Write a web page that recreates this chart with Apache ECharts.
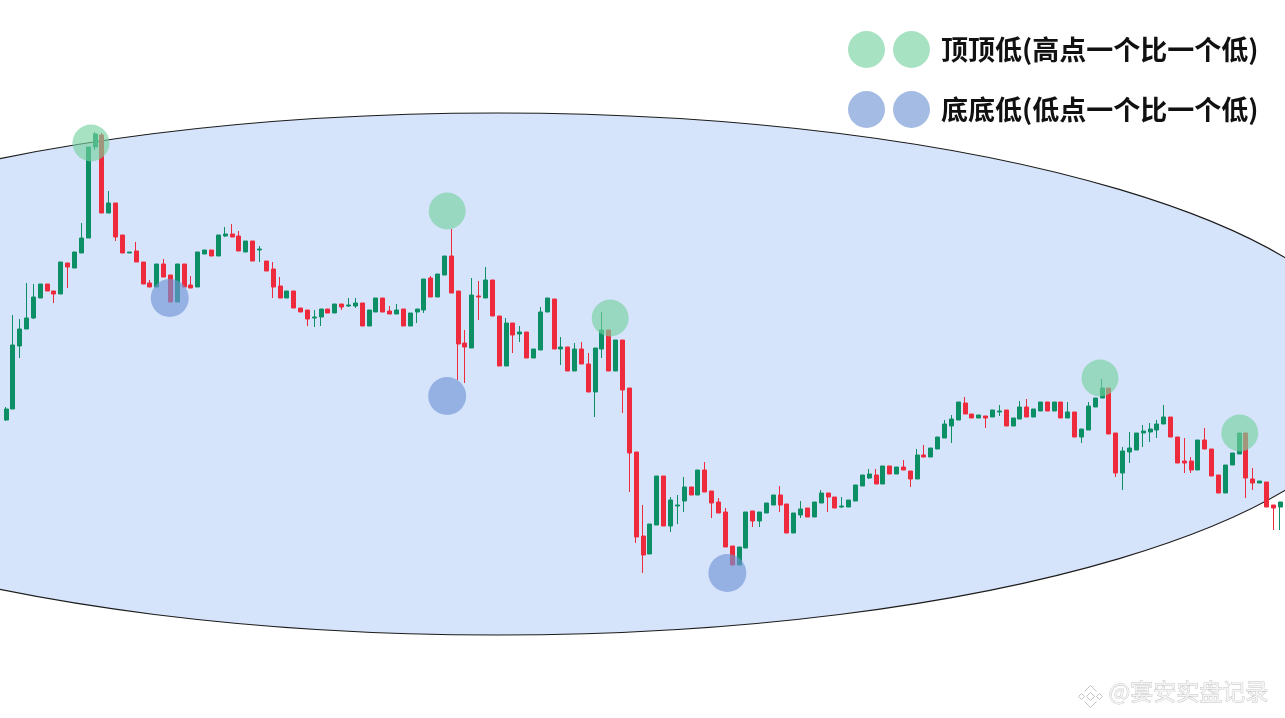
<!DOCTYPE html>
<html>
<head>
<meta charset="utf-8">
<script src="https://cdn.jsdelivr.net/npm/echarts@6/dist/echarts.min.js"></script>
<style>html,body{margin:0;padding:0;background:#fff;}#c{width:1285px;height:718px;}</style>
</head>
<body>
<div id="c"></div>
<script>
// candle values (price units)
const opens = [300,311,374,391,402,422,436,429,426,457,
452,467,482,573,585,507,517,485,467,469,
458,437,433,456,445,418,456,435,433,466,
470,464,484,486,484,468,479,470,459,451,
434,422,429,412,410,402,403,411,407,416,
414,414,417,394,408,422,409,406,411,394,
408,410,442,423,445,464,429,377,372,424,
422,440,404,354,397,386,388,362,370,408,
421,371,373,349,371,356,328,371,390,349,
380,332,268,184,166,195,244,194,214,219,
233,225,250,229,218,208,174,155,172,209,
199,207,215,225,216,187,205,212,203,217,
227,223,213,213,219,234,242,245,236,254,
246,253,249,241,265,263,271,282,294,300,
317,306,302,304,303,308,310,294,301,313,
303,309,318,309,318,302,308,283,290,313,
322,332,287,247,268,270,287,288,290,296,
303,283,259,259,250,280,271,245,227,255,
266,287,241,237,238,215,213];
const closes = [311,375,391,402,423,436,429,426,458,453,
468,482,573,586,507,517,483,467,468,458,
436,433,456,443,418,456,433,432,468,470,
464,485,486,483,469,479,459,471,449,433,
422,429,412,408,401,403,411,407,416,413,
415,417,394,410,422,408,406,410,394,407,
411,441,423,446,464,427,376,373,425,423,
440,404,354,397,385,388,362,371,408,422,
371,373,349,371,356,328,372,390,349,380,
330,267,183,165,196,244,194,220,215,233,
225,250,228,217,207,173,155,173,208,199,
208,217,225,215,187,207,211,203,218,227,
223,212,214,220,235,245,246,236,254,246,
253,250,241,265,263,272,283,296,301,318,
306,302,305,302,310,309,294,302,313,303,
311,318,309,318,302,308,283,291,314,322,
332,286,247,269,272,287,289,291,296,303,
283,257,257,250,280,271,244,227,255,267,
287,242,237,239,213,212,218];
const lows = [299,311,362,391,401,422,429,417,426,432,
452,467,482,570,507,507,479,467,467,458,
436,433,433,443,418,418,433,432,433,466,
464,464,483,483,469,468,459,458,449,422,
422,422,412,408,394,393,394,407,407,410,
413,412,394,394,408,408,406,406,394,394,
397,407,423,423,445,427,340,337,372,400,
422,404,354,354,367,378,362,362,370,408,
371,355,349,349,356,328,303,362,349,349,
307,228,177,147,166,195,194,188,196,208,
225,225,228,202,207,173,155,155,172,193,
193,207,215,208,187,187,202,203,203,217,
208,212,212,213,219,234,241,236,236,246,
246,250,233,241,263,263,271,282,277,300,
306,302,302,292,303,304,294,294,301,303,
303,309,309,309,302,302,283,277,290,313,
322,286,243,230,257,270,273,278,282,296,
283,257,247,247,250,271,244,227,227,255,
266,222,230,237,213,190,190];
const highs = [313,405,401,437,436,436,436,429,458,457,
468,497,573,588,587,529,517,485,468,478,
458,440,456,461,445,456,456,444,468,470,
470,485,493,496,489,479,479,474,459,458,
443,429,429,412,410,410,411,411,416,416,
422,422,417,410,422,422,414,416,411,407,
411,441,444,446,464,491,429,390,442,439,
453,440,404,402,397,394,388,371,413,422,
421,383,373,377,378,367,372,408,390,380,
380,332,268,215,196,244,244,223,225,243,
233,250,258,229,222,212,174,173,208,209,
208,217,225,234,216,207,219,212,218,230,
227,223,223,220,235,245,251,251,254,254,
253,260,249,271,275,272,283,300,305,318,
323,306,305,304,310,315,310,302,319,321,
311,318,318,318,318,318,308,291,318,322,
341,332,287,273,288,287,295,297,300,315,
303,283,282,263,280,292,271,245,255,267,
287,287,252,239,238,215,218];
// marker circles: [candle position, price]
const topMarks = [[12.4,577],[64.4,509],[88.2,402],[159.7,342],[180.1,287]];
const bottomMarks = [[23.9,422],[64.4,324],[105.3,147]];
const topName = '顶顶低(高点一个比一个低)';
const bottomName = '底底低(低点一个比一个低)';

const categories = opens.map((_, i) => 'K' + (i + 1));
const candleData = opens.map((o, i) => [o, closes[i], lows[i], highs[i]]);
const N = categories.length;

const chart = echarts.init(document.getElementById('c'), null, {renderer: 'canvas'});
const twoCircles = 'path://M0,19A18.5,18.5 0 1 1 37,19A18.5,18.5 0 1 1 0,19Z M45,19A18.5,18.5 0 1 1 82,19A18.5,18.5 0 1 1 45,19Z';
const wmStyle = {fill: 'none', stroke: '#c2c2c2', lineWidth: 1};
chart.setOption({
  backgroundColor: '#ffffff',
  animation: false,
  grid: {left: 2.6, width: 1281, top: 0, height: 718, containLabel: false},
  xAxis: [
    {type: 'category', data: categories, show: false, boundaryGap: true},
    {type: 'value', min: -0.5, max: N - 0.5, show: false}
  ],
  yAxis: {type: 'value', min: 2, max: 720, show: false, splitLine: {show: false}},
  legend: {
    orient: 'vertical', left: 843, top: 26, itemWidth: 82, itemHeight: 37, itemGap: 23,
    icon: twoCircles, selectedMode: false,
    data: [topName, bottomName],
    textStyle: {fontSize: 27, fontWeight: 'bold', color: '#111', fontFamily: 'Noto Sans CJK SC', padding: [0, 0, 0, 6]}
  },
  graphic: [
    {type: 'ellipse', z: -10, silent: true,
     shape: {cx: 497, cy: 374, rx: 880, ry: 261},
     style: {fill: '#d6e4fb', stroke: '#1c1c1c', lineWidth: 1.2}},
    {type: 'group', left: 1076, top: 683, silent: true, children: [
      {type: 'polygon', shape: {points: [[13,6],[17,10],[13,14],[9,10]]}, style: wmStyle},
      {type: 'polygon', shape: {points: [[4,7],[7,10],[4,13],[1,10]]}, style: wmStyle},
      {type: 'polygon', shape: {points: [[22,7],[25,10],[22,13],[19,10]]}, style: wmStyle},
      {type: 'polyline', shape: {points: [[7,5],[13,-1],[19,5]]}, style: wmStyle},
      {type: 'polyline', shape: {points: [[7,15],[13,21],[19,15]]}, style: wmStyle}
    ]},
    {type: 'text', left: 1108, top: 679, silent: true,
     style: {text: '@宴安实盘记录', fontSize: 23, fontFamily: 'Noto Sans CJK SC',
             fill: '#f4f4f4', stroke: '#c0c0c0', lineWidth: 0.8}}
  ],
  series: [
    {
      type: 'candlestick', name: 'K', xAxisIndex: 0, yAxisIndex: 0,
      data: candleData, barWidth: 4.5, z: 3,
      itemStyle: {color: '#0d8f65', color0: '#ee2b3c', borderColor: '#0d8f65', borderColor0: '#ee2b3c', borderWidth: 1}
    },
    {
      type: 'scatter', name: topName, xAxisIndex: 1, yAxisIndex: 0,
      data: topMarks, symbolSize: 37, z: 5,
      itemStyle: {color: 'rgba(118,210,160,0.8)'}
    },
    {
      type: 'scatter', name: bottomName, xAxisIndex: 1, yAxisIndex: 0,
      data: bottomMarks, symbolSize: 38, z: 5,
      itemStyle: {color: 'rgba(112,148,212,0.8)'}
    }
  ]
});
</script>
</body>
</html>
